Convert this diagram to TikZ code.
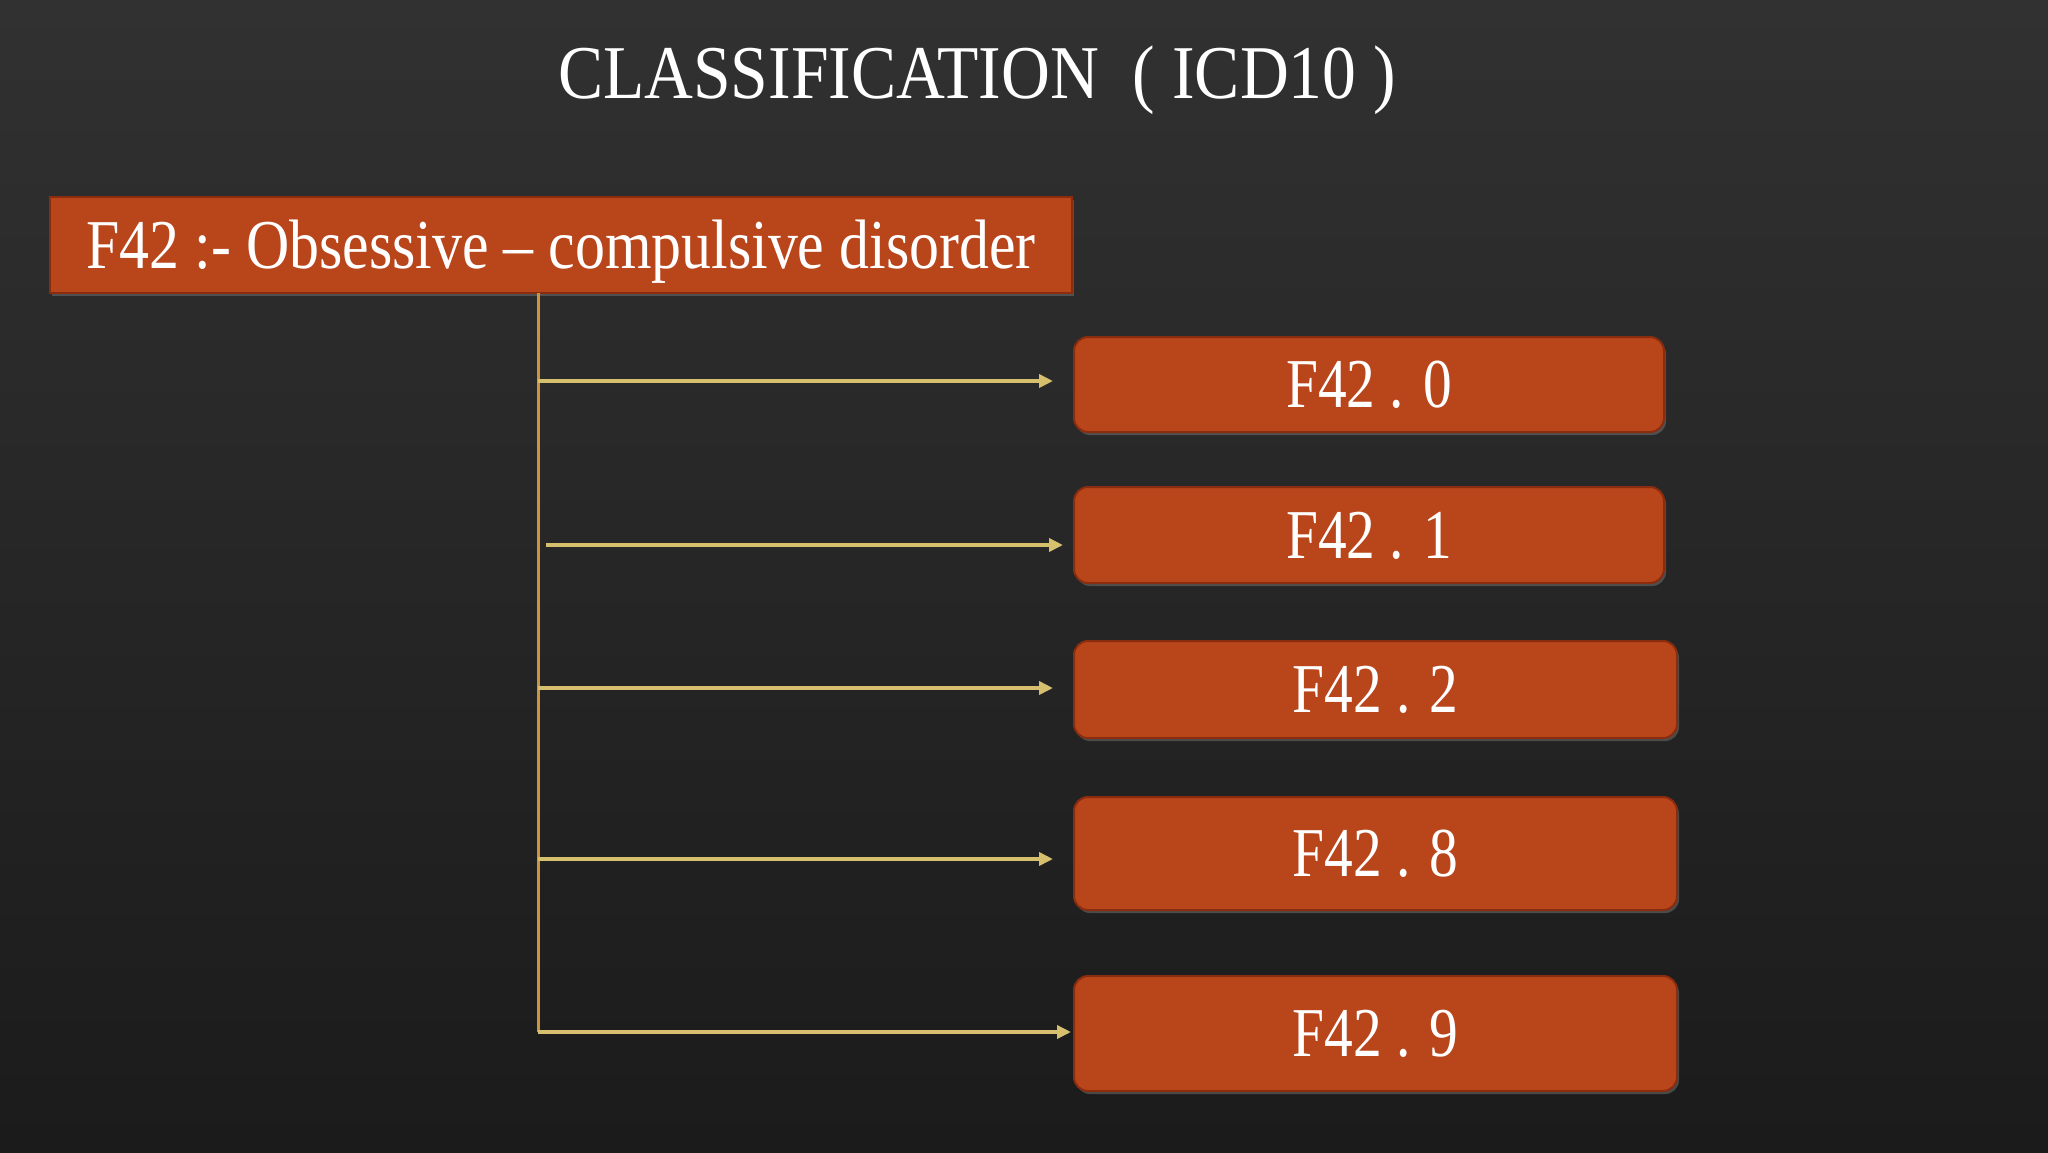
\documentclass[tikz,border=0pt]{standalone}
\usepackage{fontspec}
\setmainfont[FakeStretch=0.82]{Liberation Serif}
\newfontfamily\titlefont[FakeStretch=0.89,Ligatures=TeX]{Liberation Serif}
\newfontfamily\hdrfont[FakeStretch=0.855,Ligatures=TeX]{Liberation Serif}
\usetikzlibrary{arrows.meta,shadows}
\definecolor{bgtop}{HTML}{313131}
\definecolor{bgbot}{HTML}{1B1B1C}
\definecolor{boxfill}{HTML}{B9451B}
\definecolor{boxline}{HTML}{8A2C0E}
\definecolor{arrowc}{HTML}{D6C06E}
\definecolor{trunkc}{HTML}{C9953F}
\tikzset{
  hdrbox/.style={draw=boxline, line width=2pt, fill=boxfill, text=white,
    minimum width=1022pt, minimum height=96pt, inner sep=0pt,
    font=\hdrfont\fontsize{70}{84}\selectfont, text height=46pt, text depth=0pt,
    drop shadow={shadow xshift=2pt, shadow yshift=-3pt, opacity=0.45}},
  codebox/.style={draw=boxline, line width=2pt, fill=boxfill, text=white,
    rounded corners=14pt, inner sep=0pt,
    font=\fontsize{70}{84}\selectfont, text height=46pt, text depth=0pt,
    drop shadow={shadow xshift=2pt, shadow yshift=-3pt, opacity=0.45}},
  arr/.style={draw=arrowc, line width=4pt, -{Triangle[length=14pt,width=13pt]}},
  trunkline/.style={draw=trunkc, line width=3pt}
}
\begin{document}
\begin{tikzpicture}[x=1pt,y=-1pt]
\useasboundingbox (0,0) rectangle (2048,1152);
\shade[top color=bgtop, bottom color=bgbot] (0,0) rectangle (2048,1152);

\node[text=white, font=\titlefont\fontsize{76}{90}\selectfont, anchor=base] (title) at (977,98) {CLASSIFICATION\ \ ( ICD10 )};

\node[hdrbox] (hdr) at (561,245) {F42 :- Obsessive – compulsive disorder};

\node[codebox, minimum width=590pt, minimum height=95pt] (b0) at (1369,384.5) {F42 . 0};
\node[codebox, minimum width=590pt, minimum height=96pt] (b1) at (1369,535) {F42 . 1};
\node[codebox, minimum width=603pt, minimum height=97pt] (b2) at (1375.5,689.5) {F42 . 2};
\node[codebox, minimum width=603pt, minimum height=113pt] (b3) at (1375.5,853.5) {F42 . 8};
\node[codebox, minimum width=603pt, minimum height=115pt] (b4) at (1375.5,1033.5) {F42 . 9};

\coordinate (tt) at (538,293);
\coordinate (t0) at (538,381);
\coordinate (t1) at (546,545);
\coordinate (t2) at (538,688);
\coordinate (t3) at (538,859);
\coordinate (t4) at (538,1032);

\draw[trunkline] (tt) -- (t4);
\draw[arr, shorten >=20pt] (t0) -- (t0 -| b0.west);
\draw[arr, shorten >=10pt] (t1) -- (t1 -| b1.west);
\draw[arr, shorten >=20pt] (t2) -- (t2 -| b2.west);
\draw[arr, shorten >=20pt] (t3) -- (t3 -| b3.west);
\draw[arr, shorten >=2pt] (t4) -- (t4 -| b4.west);
\end{tikzpicture}
\end{document}
